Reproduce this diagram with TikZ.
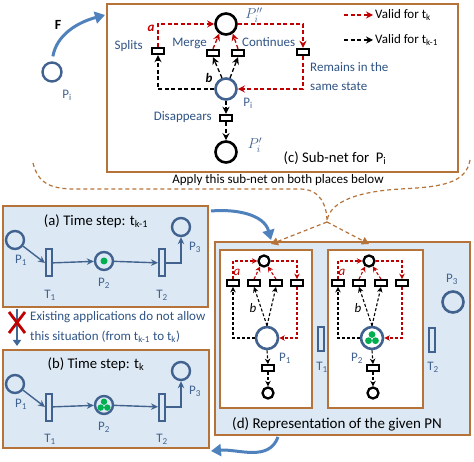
\documentclass[tikz,border=0pt]{standalone}
\usepackage{fontspec}
\setmainfont{Carlito}
\usetikzlibrary{arrows.meta,calc}
\definecolor{brn}{HTML}{B5733A}
\definecolor{lblue}{HTML}{DCE9F4}
\definecolor{pblue}{HTML}{41628F}
\definecolor{tblue}{HTML}{2F5485}
\definecolor{fblue}{HTML}{4F81BD}
\definecolor{rd}{HTML}{C00000}
\definecolor{grn}{HTML}{00B050}
\tikzset{
 every node/.style={font=\fontsize{13}{15}\selectfont},
 title/.style={font=\fontsize{14.7}{16}\selectfont, inner sep=1pt},
 bigbox/.style={rectangle, draw=brn, line width=2.8pt, inner sep=0pt},
 kplace/.style={circle, draw=black, line width=2.6pt, minimum size=21pt, inner sep=0pt, fill=white},
 bplace/.style={circle, draw=pblue, line width=2.6pt, minimum size=21pt, inner sep=0pt, fill=white},
 splace/.style={circle, draw=black, line width=2.3pt, minimum size=11pt, inner sep=0pt, fill=white},
 ktrans/.style={rectangle, draw=black, line width=2.4pt, minimum width=12pt, minimum height=6pt, inner sep=0pt, fill=white},
 strans/.style={rectangle, draw=black, line width=2.3pt, minimum width=12pt, minimum height=5.5pt, inner sep=0pt, fill=white},
 vtrans/.style={rectangle, draw=pblue, line width=2pt, minimum width=6pt, minimum height=27pt, inner sep=0pt, fill=lblue},
 apl/.style={circle, draw=pblue, line width=2.4pt, minimum size=18pt, inner sep=0pt, fill=lblue},
 redarr/.style={draw=rd, dash pattern=on 4pt off 2.5pt, line width=1.3pt, -{Stealth[length=7pt,width=7pt]}},
 blkarr/.style={draw=black, dash pattern=on 4pt off 2.5pt, line width=1.3pt, -{Stealth[length=7pt,width=7pt]}},
 sredarr/.style={draw=rd, dash pattern=on 3pt off 2pt, line width=1.1pt, -{Stealth[length=5.5pt,width=5.5pt]}},
 sblkarr/.style={draw=black, dash pattern=on 3pt off 2pt, line width=1.1pt, -{Stealth[length=5.5pt,width=5.5pt]}},
 parr/.style={draw=pblue, line width=1.4pt, -{Stealth[length=7pt,width=6.5pt]}},
 fatarr/.style={draw=fblue, line width=3pt, -{Triangle[length=10pt,width=12pt]}},
 brndash/.style={draw=brn, dash pattern=on 4pt off 3pt, line width=1.2pt},
 lbl/.style={text=tblue, inner sep=1pt},
 plbl/.style={text=pblue, inner sep=1pt},
 gdot/.style={fill=grn},
}
\newcommand{\mysub}[2]{%
\begin{scope}[shift={#2}]
 \node[splace] (#1top) at (0,0) {};
 \node[strans] (#1t1) at (-31,22) {};
 \node[strans] (#1t2) at (-10,22) {};
 \node[strans] (#1t3) at (12,22) {};
 \node[strans] (#1t4) at (33,22) {};
 \node[bplace, minimum size=22pt] (#1P) at (3,77) {};
 \node[strans] (#1tD) at (4,107) {};
 \node[splace] (#1bot) at (4,132) {};
 \node[text=rd, inner sep=0pt] (#1a) at (-27,11) {\textit{a}};
 \node[inner sep=0pt] (#1b) at (-11,47) {\textit{b}};
\end{scope}
 \draw[sredarr] (#1t1.north) |- (#1top.west);
 \draw[sredarr] (#1t2.north) -- (#1top.235);
 \draw[sredarr] (#1t3.north) -- (#1top.305);
 \draw[sredarr] (#1top.east) -| (#1t4.north);
 \draw[sredarr] (#1t4.south) |- (#1P.east);
 \draw[sblkarr] (#1P.west) -| (#1t1.south);
 \draw[sblkarr] (#1P.north) -- (#1t2.south);
 \draw[sblkarr] (#1P.north) -- (#1t3.south);
 \draw[sblkarr] (#1P.south) -- (#1tD.north);
 \draw[sblkarr] (#1tD.south) -- (#1bot.north);
}
\begin{document}
\begin{tikzpicture}[x=1pt,y=-1pt]
\useasboundingbox (0,0) rectangle (474,462);

% ---------- box (c)
\node[bigbox, fill=white, minimum width=351pt, minimum height=168pt] (boxc) at (282.5,88) {};
\node[kplace] (Ppp) at (226,24) {};
\node[bplace] (Pi) at (226,89) {};
\node[kplace] (Pp) at (226,152) {};
\node[ktrans] (tS) at (158,51) {};
\node[ktrans] (tM) at (213,53) {};
\node[ktrans] (tC) at (238,53) {};
\node[ktrans] (tR) at (303,52) {};
\node[ktrans] (tD) at (226,118) {};
\node[text=pblue, inner sep=0pt, font=\fontsize{14}{16}\selectfont] (lPpp) at (254,15) {$P_i''$};
\node[plbl] (lPi) at (248,103) {P\textsubscript{i}};
\node[text=pblue, inner sep=0pt, font=\fontsize{14}{16}\selectfont] (lPp) at (255,145) {$P_i'$};
\node[lbl, anchor=east] (lS) at (144,46) {Splits};
\node[lbl, anchor=east] (lM) at (208,43) {Merge};
\node[lbl, anchor=west] (lC) at (241,42) {Continues};
\node[lbl, anchor=west] (lR1) at (309,67) {Remains in the};
\node[lbl, anchor=west] (lR2) at (309,86) {same state};
\node[lbl, anchor=east] (lD) at (213,117) {Disappears};
\node[text=rd, inner sep=0pt] (la) at (151,28) {\textbf{\textit{a}}};
\node[inner sep=0pt] (lb) at (209,78) {\textbf{\textit{b}}};
\node[title] (lc) at (335,158) {(c) Sub-net for \ P\textsubscript{i}};
\draw[redarr] (tS.north) |- (Ppp.west);
\draw[redarr] (tM.north) -- (Ppp.235);
\draw[redarr] (tC.north) -- (Ppp.305);
\draw[redarr] (Ppp.east) -| (tR.north);
\draw[redarr] (tR.south) |- (Pi.east);
\draw[blkarr] (Pi.west) -| (tS.south);
\draw[blkarr] (Pi.110) -- (tM.south);
\draw[blkarr] (Pi.70) -- (tC.south);
\draw[blkarr] (Pi.south) -- (tD.north);
\draw[blkarr] (tD.south) -- (Pp.north);
% legend
\coordinate (lg1a) at (344,15); \coordinate (lg1b) at (373,15);
\coordinate (lg2a) at (344,40); \coordinate (lg2b) at (373,40);
\draw[redarr] (lg1a) -- (lg1b);
\draw[blkarr] (lg2a) -- (lg2b);
\node[anchor=west, inner sep=1pt] (lv1) at (374,15) {Valid for t\textsubscript{k}};
\node[anchor=west, inner sep=1pt] (lv2) at (374,40) {Valid for t\textsubscript{k-1}};

% ---------- left P_i and F
\node[bplace, minimum size=19pt, line width=2.4pt] (Pi0) at (52,72) {};
\node[plbl] (lPi0) at (67,95) {P\textsubscript{i}};
\node[font=\fontsize{14}{16}\selectfont\bfseries] (lF) at (58,25) {F};
\coordinate (fend) at (105,15);
\draw[fatarr, shorten <=5pt] (Pi0.north) to[out=80, in=195] (fend);

% ---------- dashed brace
\node[inner sep=1pt] (apply) at (278,180) {Apply this sub-net on both places below};
\coordinate (br0) at (33,163);
\coordinate (br1) at (470,160);
\coordinate (tip) at (327,222);
\coordinate (ad1) at (271,244);
\coordinate (ad2) at (369,244);
\draw[brndash] (br0) .. controls (38,183) and (50,189) .. (75,189) -- (300,189) .. controls (320,189) and (327,205) .. (tip);
\draw[brndash] (br1) .. controls (466,184) and (440,187) .. (400,189) .. controls (350,192) and (328,205) .. (tip);

% ---------- box (a)
\node[bigbox, fill=lblue, minimum width=205pt, minimum height=101pt] (boxa) at (105.5,256.5) {};
\node[title] (ta) at (96,221) {(a) Time step: t\textsubscript{k-1}};
\node[apl] (aP1) at (15,240) {};
\node[vtrans] (aT1) at (49,263) {};
\node[apl] (aP2) at (104,261) {};
\fill[gdot] (aP2) circle[radius=3.5pt];
\node[vtrans] (aT2) at (162,263) {};
\node[apl] (aP3) at (181,227) {};
\node[plbl] (laP1) at (21,260) {P\textsubscript{1}};
\node[plbl] (laT1) at (50,295) {T\textsubscript{1}};
\node[plbl] (laP2) at (104,283) {P\textsubscript{2}};
\node[plbl] (laT2) at (162,295) {T\textsubscript{2}};
\node[plbl] (laP3) at (195,247) {P\textsubscript{3}};
\draw[parr] (aP1) -- (aT1.west);
\draw[parr] (aT1) -- (aP2);
\draw[parr] (aP2) -- (aT2);
\draw[parr] (aT2.east) -| (aP3.south);

% ---------- crossed arrow
\coordinate (xa1) at (17,309);
\coordinate (xa2) at (17,346);
\draw[draw=fblue!80!black, line width=2.5pt, -{Triangle[length=6pt,width=8pt]}] (xa1) -- (xa2);
\coordinate (x1) at (9,312); \coordinate (x2) at (25,333);
\coordinate (x3) at (25,312); \coordinate (x4) at (9,333);
\draw[rd, line width=2.8pt] (x1) -- (x2);
\draw[rd, line width=2.8pt] (x3) -- (x4);
\node[lbl, anchor=west] (ex1) at (29,317) {Existing applications do not allow};
\node[lbl, anchor=west] (ex2) at (29,337) {this situation (from t\textsubscript{k-1} to t\textsubscript{k})};

% ---------- box (b)
\node[bigbox, fill=lblue, minimum width=206pt, minimum height=98pt] (boxb) at (106,399) {};
\node[title] (tb) at (96,364) {(b) Time step: t\textsubscript{k}};
\node[apl] (bP1) at (15,384) {};
\node[vtrans] (bT1) at (49,407) {};
\node[apl] (bP2) at (104,405) {};
\fill[gdot] ($(bP2)+(0,-3.3)$) circle[radius=3.2pt];
\fill[gdot] ($(bP2)+(-3.3,2.6)$) circle[radius=3.2pt];
\fill[gdot] ($(bP2)+(3.3,2.6)$) circle[radius=3.2pt];
\node[vtrans] (bT2) at (162,407) {};
\node[apl] (bP3) at (181,371) {};
\node[plbl] (lbP1) at (21,404) {P\textsubscript{1}};
\node[plbl] (lbT1) at (50,439) {T\textsubscript{1}};
\node[plbl] (lbP2) at (104,427) {P\textsubscript{2}};
\node[plbl] (lbT2) at (162,439) {T\textsubscript{2}};
\node[plbl] (lbP3) at (195,391) {P\textsubscript{3}};
\draw[parr] (bP1) -- (bT1.west);
\draw[parr] (bT1) -- (bP2);
\draw[parr] (bP2) -- (bT2);
\draw[parr] (bT2.east) -| (bP3.south);

% ---------- box (d)
\node[bigbox, fill=lblue, minimum width=255pt, minimum height=193pt] (boxd) at (342.5,338.5) {};
\node[bigbox, fill=white, minimum width=92pt, minimum height=158pt, line width=2.5pt] (d1) at (266,329) {};
\node[bigbox, fill=white, minimum width=95pt, minimum height=158pt, line width=2.5pt] (d2) at (375.5,329) {};
\mysub{sa}{(264,261)}
\mysub{sb}{(369,261)}
\fill[gdot] ($(sbP)+(0,-3.5)$) circle[radius=3.4pt];
\fill[gdot] ($(sbP)+(-3.5,2.7)$) circle[radius=3.4pt];
\fill[gdot] ($(sbP)+(3.5,2.7)$) circle[radius=3.4pt];
\node[plbl] (ldP1) at (285,358) {P\textsubscript{1}};
\node[plbl] (ldP2) at (357,358) {P\textsubscript{2}};
\node[vtrans, minimum height=24pt] (dT1) at (321,339) {};
\node[vtrans, minimum height=24pt] (dT2) at (432,340) {};
\node[plbl] (ldT1) at (322,367) {T\textsubscript{1}};
\node[plbl] (ldT2) at (433,367) {T\textsubscript{2}};
\node[bplace, fill=lblue] (dP3) at (453,302) {};
\node[plbl] (ldP3) at (452,279) {P\textsubscript{3}};
\node[title, font=\fontsize{15}{17}\selectfont] (td) at (337,424) {(d) Representation of the given PN};

% brace arrows
\draw[brndash, -{Triangle[length=7pt,width=8pt]}] (tip) -- (ad1);
\draw[brndash, -{Triangle[length=7pt,width=8pt]}] (tip) -- (ad2);

% blue big arrows
\coordinate (ab1) at (211,211);
\coordinate (ab2) at (271,240);
\draw[fatarr] (ab1) to[out=5, in=105] (ab2);
\coordinate (db1) at (278,437);
\coordinate (db2) at (211,451);
\draw[fatarr] (db1) to[out=-110, in=5] (db2);
\end{tikzpicture}
\end{document}
